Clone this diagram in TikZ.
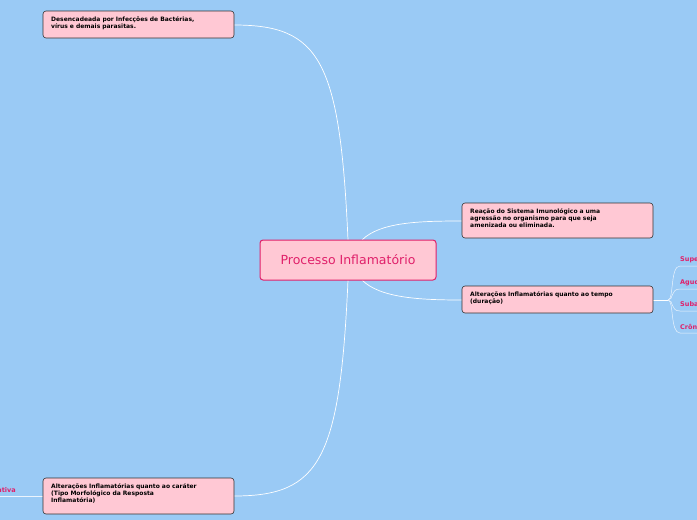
\documentclass[tikz,border=0pt]{standalone}
\usepackage{fontspec}
\setmainfont{DejaVu Sans}
\begin{document}
\begin{tikzpicture}[x=1pt,y=-1pt,
  box/.style={anchor=north west,align=left,inner sep=0pt,font=\fontsize{6}{7.4}\selectfont\bfseries,text width=#1},
  frame/.style={fill=boxc,draw=black!80,rounded corners=3pt,line width=0.6pt},
  con/.style={draw=white,line width=0.7pt},
  sub/.style={font=\fontsize{6.5}{7}\selectfont\bfseries,text=pinkc,anchor=south west,inner sep=1pt}]
\definecolor{bgc}{HTML}{9ACAF5}
\definecolor{boxc}{HTML}{FFC8D4}
\definecolor{pinkc}{HTML}{E0206A}
\fill[bgc] (0,0) rectangle (697,520);
\useasboundingbox (0,0) rectangle (697,520);
\clip (0,0) rectangle (697,520);
% connectors
\draw[con] (348,240) .. controls (340,60) and (320,25) .. (234,25);
\draw[con] (348,280) .. controls (340,460) and (320,496) .. (234,496);
\draw[con] (362,240) .. controls (380,222) and (420,221) .. (462,221);
\draw[con] (362,280) .. controls (380,298) and (420,300) .. (462,300);
\draw[con] (653,300) -- (668,300);
\foreach \yy in {266,289,311,333}{
  \draw[con,white!80!bgc,line width=0.5pt] (668,300) .. controls (674,300) and (670,\yy) .. (680,\yy) -- (697,\yy);}
\draw[con,white!80!bgc,line width=0.5pt] (43,496) -- (0,496);
% boxes
\draw[frame] (43,11) rectangle (234,38);
\node[box=180pt] (b1) at (51,16) {Desencadeada por Infecções de Bactérias,\\vírus e demais parasitas.};
\draw[frame] (462,203) rectangle (653,238);
\node[box=180pt] (b2) at (470,208) {Reação do Sistema Imunológico a uma\\agressão no organismo para que seja\\amenizada ou eliminada.};
\draw[frame] (462,286) rectangle (653,313);
\node[box=180pt] (b3) at (470,291) {Alterações Inflamatórias quanto ao tempo\\(duração)};
\draw[frame] (43,478) rectangle (234,514);
\node[box=180pt] (b4) at (51,483) {Alterações Inflamatórias quanto ao caráter\\(Tipo Morfológico da Resposta\\Inflamatória)};
% central
\filldraw[fill=boxc,draw=pinkc,rounded corners=3pt,line width=1pt] (260,240) rectangle (436,280);
\node[text=pinkc,font=\fontsize{12.5}{14}\selectfont] (c) at (348,260) {Processo Inflamatório};
% subs
\node[sub] (s1) at (679,264) {Superaguda};
\node[sub] (s2) at (679,287) {Aguda};
\node[sub] (s3) at (679,309) {Subaguda};
\node[sub] (s4) at (679,331) {Crônica};
\node[sub,anchor=south east] (s5) at (17,494) {Exsudativa};
\end{tikzpicture}
\end{document}
